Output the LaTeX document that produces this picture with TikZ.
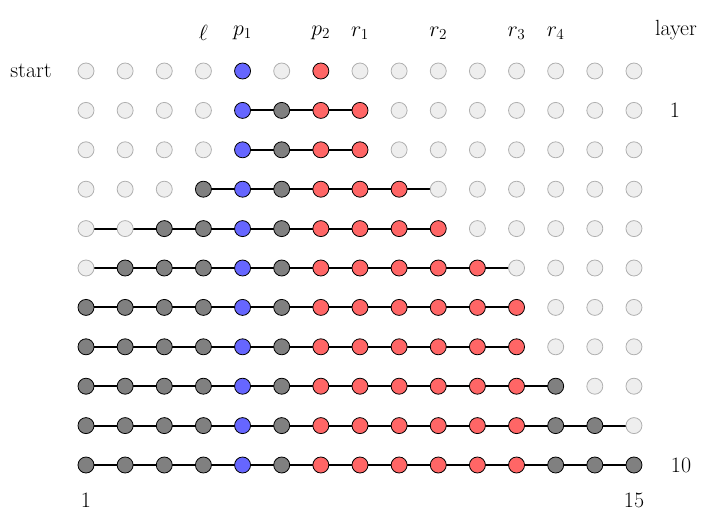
\documentclass[tikz,border=0pt]{standalone}
\usetikzlibrary{backgrounds}
\definecolor{ltf}{HTML}{EEEEEE}
\definecolor{ltd}{HTML}{B0B0B0}
\definecolor{grf}{HTML}{808080}
\definecolor{blf}{HTML}{6666FF}
\definecolor{rdf}{HTML}{FF6666}
\newcommand{\bigtxt}[1]{\scalebox{1.27}{\LARGE #1}}
\tikzset{
 dot/.style={circle,minimum size=16pt,inner sep=0pt,line width=0.8pt},
 lt/.style={dot,fill=ltf,draw=ltd},
 gr/.style={dot,fill=grf,draw=black},
 bl/.style={dot,fill=blf,draw=black},
 rd/.style={dot,fill=rdf,draw=black},
 lab/.style={inner sep=0pt},
 conn/.style={line width=2pt}
}
\begin{document}
\begin{tikzpicture}[x=1pt,y=-1pt]
\useasboundingbox (0,0) rectangle (712,517);
\foreach \r/\a/\b/\g/\six/\re/\te in {0/0/0/5/0/7/12,1/5/8/5/1/8/12,2/5/8/5/1/8/12,3/4/10/4/1/9/12,4/1/10/3/1/10/12,5/1/12/2/1/11/12,6/1/12/1/1/12/12,7/1/12/1/1/12/12,8/1/13/1/1/12/13,9/1/15/1/1/12/14,10/1/15/1/1/12/15}{
 \foreach \c in {1,...,15}{
  \def\st{lt}
  \ifnum\c<5 \ifnum\c<\g\else\def\st{gr}\fi\fi
  \ifnum\c=5 \def\st{bl}\fi
  \ifnum\c=6 \ifnum\six=1 \def\st{gr}\fi\fi
  \ifnum\c>6 \ifnum\c>\re\else\def\st{rd}\fi\fi
  \ifnum\c>12 \ifnum\c>\te\else\def\st{gr}\fi\fi
  \node[\st] (n-\r-\c) at ({86+(\c-1)*39.14},{71+\r*39.4}) {};
 }
 \ifnum\a>0
 \begin{pgfonlayer}{background}
 \draw[conn] (n-\r-\a.center) -- (n-\r-\b.center);
 \end{pgfonlayer}
 \fi
}
\node[lab] (l) at (n-0-4|-0,33) {\bigtxt{$\ell$}};
\node[lab] (p1) at (n-0-5|-0,33) {\bigtxt{$p_1$}};
\node[lab] (p2) at (n-0-7|-0,33) {\bigtxt{$p_2$}};
\node[lab] (r1) at (n-0-8|-0,33) {\bigtxt{$r_1$}};
\node[lab] (r2) at (n-0-10|-0,33) {\bigtxt{$r_2$}};
\node[lab] (r3) at (n-0-12|-0,33) {\bigtxt{$r_3$}};
\node[lab] (r4) at (n-0-13|-0,33) {\bigtxt{$r_4$}};
\node[lab] (layer) at (676,30) {\bigtxt{layer}};
\node[lab] (start) at (31,71) {\bigtxt{start}};
\node[lab] (y1) at (675,110) {\bigtxt{1}};
\node[lab] (y10) at (681,465) {\bigtxt{10}};
\node[lab] (x1) at (86,500) {\bigtxt{1}};
\node[lab] (x15) at (634,500) {\bigtxt{15}};
\end{tikzpicture}
\end{document}
